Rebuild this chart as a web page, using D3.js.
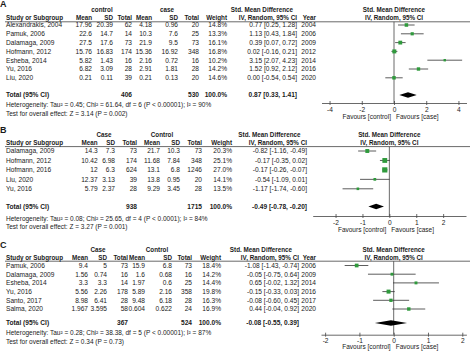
<!DOCTYPE html>
<html>
<head>
<meta charset="utf-8">
<script src="https://cdn.jsdelivr.net/npm/d3@7"></script>
<style>
  body { margin: 0; background: #fff; }
  svg { display: block; font-family: "Liberation Sans", Arial, sans-serif; }
</style>
</head>
<body>
<div id="chart"></div>
<script>
// ---- Panel A data ----
var aStudies = ["Alexandrakis, 2004", "Pamuk, 2006", "Dalamaga, 2009", "Hofmann, 2012", "Esheba, 2014", "Yu, 2016", "Liu, 2020"];
var aMean1 = [17.96, 22.6, 27.5, 15.76, 5.82, 6.82, 0.21];
var aSd1 = [20.39, 14.7, 17.6, 16.83, 1.43, 3.09, 0.11];
var aN1 = [62, 14, 73, 174, 16, 28, 39];
var aMean2 = [4.18, 10.3, 21.9, 15.36, 2.16, 2.91, 0.21];
var aSd2 = [0.96, 7.6, 9.5, 16.92, 0.72, 1.81, 0.13];
var aN2 = [20, 25, 73, 348, 16, 28, 20];
var aWeight = [14.8, 13.3, 16.1, 16.8, 10.2, 14.2, 14.6];
var aSmd = [0.77, 1.13, 0.39, 0.02, 3.15, 1.52, 0.00];
var aLo = [0.25, 0.43, 0.07, -0.16, 2.07, 0.92, -0.54];
var aHi = [1.28, 1.84, 0.72, 0.21, 4.23, 2.12, 0.54];
var aYear = [2004, 2006, 2009, 2012, 2014, 2016, 2020];
var aTotal = [406, 530];
var aPooled = [0.87, 0.33, 1.41];
var aTicks = [-4, -2, 0, 2, 4];
var aHet = "Heterogeneity: Tau\u00b2 = 0.45; Chi\u00b2 = 61.64, df = 6 (P < 0.00001); I\u00b2 = 90%";
var aTest = "Test for overall effect: Z = 3.14 (P = 0.002)";

// ---- Panel B data ----
var bStudies = ["Dalamaga, 2009", "Hofmann, 2012", "Hofmann, 2016", "Liu, 2020", "Yu, 2016"];
var bMean1 = [14.3, 10.42, 12, 12.37, 5.79];
var bSd1 = [7.3, 6.98, 6.3, 3.13, 2.37];
var bN1 = [73, 174, 624, 39, 28];
var bMean2 = [21.7, 11.68, 13.1, 13.8, 9.29];
var bSd2 = [10.3, 7.84, 6.8, 0.95, 3.45];
var bN2 = [73, 348, 1246, 20, 28];
var bWeight = [20.3, 25.1, 27.0, 14.1, 13.5];
var bSmd = [-0.82, -0.17, -0.17, -0.54, -1.17];
var bLo = [-1.16, -0.35, -0.26, -1.09, -1.74];
var bHi = [-0.49, 0.02, -0.07, 0.01, -0.60];
var bTotal = [938, 1715];
var bPooled = [-0.49, -0.78, -0.20];
var bTicks = [-2, -1, 0, 1, 2];
var bHet = "Heterogeneity: Tau\u00b2 = 0.08; Chi\u00b2 = 25.65, df = 4 (P < 0.0001); I\u00b2 = 84%";
var bTest = "Test for overall effect: Z = 3.27 (P = 0.001)";

// ---- Panel C data ----
var cStudies = ["Pamuk, 2006", "Dalamaga, 2009", "Esheba, 2014", "Yu, 2016", "Santo, 2017", "Salma, 2020"];
var cMean1 = [9.4, 1.56, 3.3, 5.56, 8.98, 1.967];
var cSd1 = [5, 0.74, 3.3, 2.26, 6.41, 3.595];
var cN1 = [73, 16, 14, 178, 28, 58];
var cMean2 = [15.9, 1.6, 1.97, 5.89, 9.48, 0.604];
var cSd2 = [6.8, 0.68, 0.6, 2.16, 6.18, 0.622];
var cN2 = [73, 16, 25, 358, 28, 24];
var cWeight = [18.4, 14.2, 14.4, 19.8, 16.3, 16.9];
var cSmd = [-1.08, -0.05, 0.65, -0.15, -0.08, 0.44];
var cLo = [-1.43, -0.75, -0.02, -0.33, -0.60, -0.04];
var cHi = [-0.74, 0.64, 1.32, 0.03, 0.45, 0.92];
var cYear = [2006, 2009, 2014, 2016, 2017, 2020];
var cTotal = [367, 524];
var cPooled = [-0.08, -0.55, 0.39];
var cTicks = [-2, -1, 0, 1, 2];
var cHet = "Heterogeneity: Tau\u00b2 = 0.28; Chi\u00b2 = 38.38, df = 5 (P < 0.00001); I\u00b2 = 87%";
var cTest = "Test for overall effect: Z = 0.34 (P = 0.73)";

var W = 474, H = 353;
var FS = 6.6;   // body text
var HS = 6.3;   // bold column headers
var green = "#2f9a3c";

var svg = d3.select("#chart").append("svg")
    .attr("width", W)
    .attr("height", H);

function ci(m, l, h) {
    return m.toFixed(2) + " [" + l.toFixed(2) + ", " + h.toFixed(2) + "]";
}

function txt(g, x, y, s, anchor, bold, size) {
    return g.append("text")
        .attr("x", x).attr("y", y)
        .attr("text-anchor", anchor || "start")
        .attr("font-size", size || FS)
        .attr("font-weight", bold ? "bold" : "normal")
        .attr("fill", "#1a1a1a")
        .text(s);
}

function drawPanel(p) {
    var g = svg.append("g");
    var n = p.studies.length;
    var yRow = d3.scaleLinear().domain([0, n - 1]).range([p.row0, p.row0 + p.step * (n - 1)]);
    var off = 2.3; // text baseline below row centre

    // panel letter
    txt(g, 0, p.letterY, p.letter, "start", true, 9);

    // group headers
    txt(g, p.grp1X, p.grpY, p.grp1, "middle", true, HS);
    txt(g, p.grp2X, p.grpY, p.grp2, "middle", true, HS);
    txt(g, p.smdX, p.grpY, "Std. Mean Difference", "middle", true, HS);
    txt(g, p.x0, p.grpY, "Std. Mean Difference", "middle", true, HS);

    // column headers
    txt(g, 6, p.hdrY, "Study or Subgroup", "start", true, HS);
    var hdrs = ["Mean", "SD", "Total", "Mean", "SD", "Total", "Weight"];
    hdrs.forEach(function (h, i) { txt(g, p.cols[i], p.hdrY, h, "end", true, HS); });
    txt(g, p.ciX, p.hdrY, "IV, Random, 95% CI", "end", true, HS);
    if (p.year) txt(g, p.yearX, p.hdrY, "Year", "end", true, HS);
    txt(g, p.x0, p.hdrY, "IV, Random, 95% CI", "middle", true, HS);

    g.append("line")
        .attr("x1", 5).attr("x2", 470)
        .attr("y1", p.ruleY).attr("y2", p.ruleY)
        .attr("stroke", "#444").attr("stroke-width", 0.8);

    // study rows
    p.studies.forEach(function (s, i) {
        var y = yRow(i) + off;
        txt(g, 6, y, s);
        var vals = [p.m1[i], p.s1[i], p.n1[i], p.m2[i], p.s2[i], p.n2[i], p.w[i].toFixed(1) + "%"];
        vals.forEach(function (v, j) { txt(g, p.cols[j], y, String(v), "end"); });
        txt(g, p.ciX, y, ci(p.smd[i], p.lo[i], p.hi[i]), "end");
        if (p.year) txt(g, p.yearX, y, p.year[i], "end");
    });

    // total row
    var ty = p.totalY + off;
    txt(g, 6, ty, "Total (95% CI)", "start", true);
    txt(g, p.cols[2], ty, p.total[0], "end", true);
    txt(g, p.cols[5], ty, p.total[1], "end", true);
    txt(g, p.cols[6], ty, "100.0%", "end", true);
    txt(g, p.ciX, ty, ci(p.pooled[0], p.pooled[1], p.pooled[2]), "end", true);

    txt(g, 6, p.hetY, p.het, "start", false, 6.5);
    txt(g, 6, p.testY, p.test, "start", false, 6.5);

    // forest plot
    var x = d3.scaleLinear().domain(p.domain).range([p.xr[0], p.xr[1]]);
    var sq = d3.scaleLinear().domain([0, d3.max(p.w)]).range([0, p.maxSq]);

    g.append("line")
        .attr("x1", x(0)).attr("x2", x(0))
        .attr("y1", p.ruleY).attr("y2", p.axisY)
        .attr("stroke", "#444").attr("stroke-width", 0.8);

    var rows = g.append("g").selectAll("g")
        .data(d3.range(n))
        .enter().append("g");

    rows.append("line")
        .attr("x1", function (i) { return x(p.lo[i]); })
        .attr("x2", function (i) { return x(p.hi[i]); })
        .attr("y1", function (i) { return yRow(i); })
        .attr("y2", function (i) { return yRow(i); })
        .attr("stroke", "#333").attr("stroke-width", 0.8);

    rows.append("rect")
        .attr("x", function (i) { return x(p.smd[i]) - sq(p.w[i]) / 2; })
        .attr("y", function (i) { return yRow(i) - sq(p.w[i]) / 2; })
        .attr("width", function (i) { return sq(p.w[i]); })
        .attr("height", function (i) { return sq(p.w[i]); })
        .attr("fill", green);

    var dy = p.totalY;
    g.append("path")
        .attr("d", "M" + x(p.pooled[1]) + "," + dy +
            "L" + x(p.pooled[0]) + "," + (dy - 2.8) +
            "L" + x(p.pooled[2]) + "," + dy +
            "L" + x(p.pooled[0]) + "," + (dy + 2.8) + "Z")
        .attr("fill", "#000");

    var ax = g.append("g")
        .attr("transform", "translate(0," + p.axisY + ")")
        .call(d3.axisBottom(x).tickValues(p.ticks).tickSize(2).tickSizeOuter(0).tickPadding(2)
            .tickFormat(function (d) { return String(d); }));
    ax.select(".domain").attr("stroke", "#444").attr("stroke-width", 0.8);
    ax.selectAll(".tick line").attr("y1", -2).attr("stroke", "#444").attr("stroke-width", 0.8);
    ax.selectAll(".tick text").attr("font-size", FS).attr("font-family", "Liberation Sans, Arial, sans-serif").attr("fill", "#1a1a1a");

    txt(g, x(0) - 3, p.favY, "Favours [control]", "end", false, 6.5);
    txt(g, x(0) + 2, p.favY, "Favours [case]", "start", false, 6.5);
}

drawPanel({
    letter: "A", letterY: 7,
    studies: aStudies, m1: aMean1, s1: aSd1, n1: aN1, m2: aMean2, s2: aSd2, n2: aN2,
    w: aWeight, smd: aSmd, lo: aLo, hi: aHi, year: aYear, total: aTotal, pooled: aPooled,
    ticks: aTicks, het: aHet, test: aTest,
    grp1: "control", grp2: "case", grp1X: 102, grp2X: 167, grpY: 11.5,
    cols: [92, 113, 132, 152, 178, 199, 227], ciX: 297, yearX: 316, smdX: 262,
    hdrY: 20.2, ruleY: 21.8, row0: 25, step: 8.8, totalY: 95, hetY: 107, testY: 116,
    domain: [-4.5, 4.5], xr: [321.5, 466.5], x0: 394, axisY: 103, favY: 119.4, maxSq: 4
});

drawPanel({
    letter: "B", letterY: 132.7,
    studies: bStudies, m1: bMean1, s1: bSd1, n1: bN1, m2: bMean2, s2: bSd2, n2: bN2,
    w: bWeight, smd: bSmd, lo: bLo, hi: bHi, year: null, total: bTotal, pooled: bPooled,
    ticks: bTicks, het: bHet, test: bTest,
    grp1: "Case", grp2: "Control", grp1X: 104, grp2X: 162, grpY: 136.5,
    cols: [97.7, 115, 137, 160, 180, 202, 232], ciX: 307, yearX: 0, smdX: 269.5,
    hdrY: 145, ruleY: 146.6, row0: 151, step: 9.45, totalY: 206.5, hetY: 220.5, testY: 229,
    domain: [-2.85, 2.85], xr: [312.7, 466], x0: 389.3, axisY: 216, favY: 232.4, maxSq: 5.2
});

drawPanel({
    letter: "C", letterY: 247.7,
    studies: cStudies, m1: cMean1, s1: cSd1, n1: cN1, m2: cMean2, s2: cSd2, n2: cN2,
    w: cWeight, smd: cSmd, lo: cLo, hi: cHi, year: cYear, total: cTotal, pooled: cPooled,
    ticks: cTicks, het: cHet, test: cTest,
    grp1: "Case", grp2: "Control", grp1X: 98, grp2X: 157, grpY: 251.5,
    cols: [88, 107, 128, 145, 172, 192, 221], ciX: 299, yearX: 316, smdX: 261,
    hdrY: 259.8, ruleY: 261.2, row0: 265.5, step: 8.7, totalY: 323, hetY: 335.4, testY: 344.4,
    domain: [-2.12, 2.12], xr: [321, 466.4], x0: 393.7, axisY: 334.7, favY: 349.4, maxSq: 4
});
</script>
</body>
</html>
